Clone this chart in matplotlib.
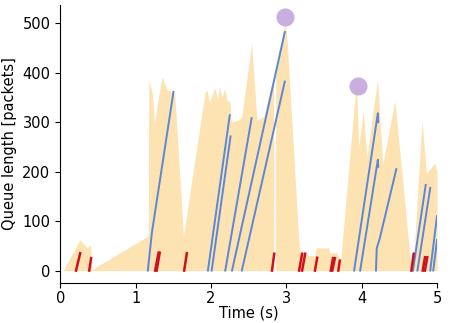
import matplotlib
matplotlib.use('Agg')
import matplotlib.pyplot as plt

# queue occupancy envelope (time s, packets)
fill_t = [0.04, 0.26, 0.36, 0.40, 0.42, 0.43, 1.17, 1.175, 1.22, 1.25, 1.35, 1.42, 1.52,
          1.635, 1.92, 1.95, 1.98, 2.05, 2.09, 2.11, 2.15, 2.18, 2.22, 2.25, 2.27, 2.38,
          2.41, 2.54, 2.61, 2.70, 2.83, 2.835, 2.855, 2.86, 2.98, 3.005, 3.17, 3.20, 3.25,
          3.29, 3.38, 3.40, 3.56, 3.58, 3.67, 3.72, 3.93, 3.96, 4.02, 4.07, 4.21, 4.28,
          4.44, 4.65, 4.69, 4.80, 4.86, 4.97, 5.0]
fill_q = [0, 62, 46, 52, 0, 3, 70, 385, 360, 298, 392, 365, 358,
          69, 358, 365, 340, 370, 345, 372, 350, 368, 340, 345, 300, 305,
          311, 459, 304, 311, 392, 0, 0, 400, 500, 480, 50, 36, 36,
          30, 30, 46, 46, 36, 36, 18, 382, 250, 322, 230, 387, 215,
          343, 15, 22, 302, 197, 217, 200]

# flows filling the queue (blue)
blue_lines = [
    ([1.163, 1.216, 1.503], [0, 76, 361]),
    ([1.96, 2.25], [0, 314]),
    ([2.01, 2.26], [0, 271]),
    ([2.19, 2.54], [0, 308]),
    ([2.28, 2.98], [0, 482]),
    ([2.41, 2.98], [0, 382]),
    ([3.90, 4.215, 4.22], [0, 318, 300]),
    ([3.98, 4.215, 4.22], [0, 224, 210]),
    ([4.19, 4.20, 4.24, 4.46], [0, 45, 65, 205]),
    ([4.68, 4.85], [0, 173]),
    ([4.74, 4.91], [0, 167]),
    ([4.91, 5.0], [0, 110]),
    ([4.95, 5.0], [0, 62]),
]

# short flows (red)
red_lines = [
    ([0.21, 0.265], [0, 35]),
    ([0.385, 0.41], [0, 25]),
    ([1.26, 1.305], [0, 36]),
    ([1.28, 1.32], [0, 36]),
    ([1.645, 1.68], [0, 35]),
    ([2.81, 2.84], [0, 34]),
    ([3.17, 3.21], [0, 34]),
    ([3.21, 3.25], [0, 34]),
    ([3.38, 3.41], [0, 26]),
    ([3.59, 3.62], [0, 25]),
    ([3.61, 3.645], [0, 25]),
    ([3.69, 3.71], [0, 20]),
    ([4.66, 4.69], [0, 34]),
    ([4.81, 4.84], [0, 27]),
    ([4.84, 4.87], [0, 27]),
]

# peak markers
peak_t = [2.98, 3.95]
peak_q = [512, 373]

fig, ax = plt.subplots(figsize=(4.74, 3.23), dpi=100)
plt.subplots_adjust(left=0.127, right=0.922, bottom=0.124, top=0.985)

ax.fill_between(fill_t, fill_q, 0, color='#fde2b2', lw=0)
for t, q in blue_lines:
    ax.plot(t, q, color='#5b87d6', lw=1.4)
for t, q in red_lines:
    ax.plot(t, q, color='#d0101e', lw=1.8)
ax.plot(peak_t, peak_q, 'o', color='#c3a6dc', markersize=13, alpha=0.9, mec='none')

ax.set_xlim(0, 5)
ax.set_ylim(-25, 537)
ax.set_yticks([0, 100, 200, 300, 400, 500])
ax.set_xticks([0, 1, 2, 3, 4, 5])
ax.tick_params(labelsize=10.5)
ax.tick_params(axis='x', pad=2)
ax.set_xlabel('Time (s)', fontsize=10.5, labelpad=0)
ax.set_ylabel('Queue length [packets]', fontsize=10.5)
ax.spines['top'].set_visible(False)
ax.spines['right'].set_visible(False)

plt.savefig('out.png')
